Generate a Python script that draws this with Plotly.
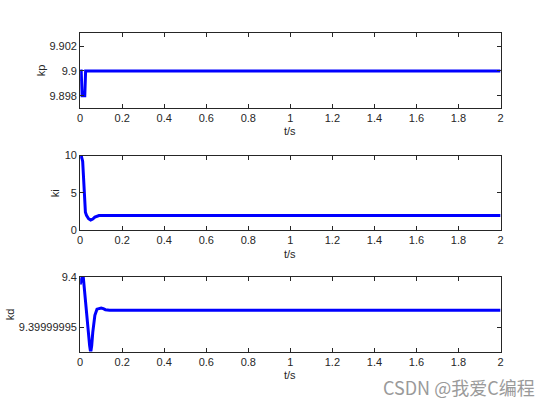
import plotly.graph_objects as go

# ---- data ----
t_kp = [0, 0.005, 0.009, 0.013, 0.022, 0.026, 0.03, 0.1, 0.5, 1.0, 1.5, 2.0]
kp = [9.9, 9.9, 9.898, 9.898, 9.898, 9.9, 9.9, 9.9, 9.9, 9.9, 9.9, 9.9]

t_ki = [0, 0.005, 0.012, 0.02, 0.025, 0.03, 0.04, 0.05, 0.06, 0.07, 0.08, 0.09, 0.1, 0.12, 0.15, 0.2, 0.5, 1.0, 1.5, 2.0]
ki = [9.6, 10.0, 9.2, 4.0, 2.4, 2.0, 1.55, 1.38, 1.5, 1.75, 1.9, 1.97, 1.99, 1.98, 1.96, 1.96, 1.96, 1.96, 1.96, 1.96]

t_kd = [0, 0.005, 0.01, 0.015, 0.02, 0.03, 0.04, 0.045, 0.05, 0.055, 0.06, 0.07, 0.08, 0.09, 0.1, 0.11, 0.12, 0.14, 0.17, 0.2, 0.5, 1.0, 1.5, 2.0]
kd = [9.3999999925, 9.399999997, 9.4000000005, 9.3999999995, 9.399999987, 9.399999965,
      9.399999942, 9.399999932, 9.399999925, 9.399999932, 9.399999945, 9.399999962,
      9.399999968, 9.399999969, 9.3999999692, 9.3999999685, 9.3999999675, 9.399999967,
      9.399999967, 9.399999967, 9.399999967, 9.399999967, 9.399999967, 9.399999967]

x_ticks = [0, 0.2, 0.4, 0.6, 0.8, 1, 1.2, 1.4, 1.6, 1.8, 2]
x_ticktext = ["0", "0.2", "0.4", "0.6", "0.8", "1", "1.2", "1.4", "1.6", "1.8", "2"]
kp_ticks = [9.898, 9.9, 9.902]
kp_ticktext = ["9.898", "9.9", "9.902"]
ki_ticks = [0, 5, 10]
ki_ticktext = ["0", "5", "10"]
kd_ticks = [9.39999995, 9.4]
kd_ticktext = ["9.39999995", "9.4"]
y_labels = ["kp", "ki", "kd"]
x_label = "t/s"
watermark = "CSDN @我爱C编程"

W, H = 554, 411
x_dom = [78 / W, 503 / W]
boxes = [(28, 105), (154, 231), (279, 356)]

fig = go.Figure()
series = [(t_kp, kp), (t_ki, ki), (t_kd, kd)]
for i, (tx, ty) in enumerate(series):
    fig.add_trace(go.Scatter(x=tx, y=ty, mode="lines",
                             line=dict(color="#0000FF", width=3),
                             xaxis="x" if i == 0 else f"x{i+1}",
                             yaxis="y" if i == 0 else f"y{i+1}",
                             showlegend=False, hoverinfo="skip"))

tickfont = dict(family="Arial, Liberation Sans, sans-serif", size=11, color="#262626")
axcommon = dict(showline=True, linecolor="#262626", linewidth=1, mirror="ticks",
                ticks="inside", ticklen=4, tickcolor="#262626", tickwidth=1,
                showgrid=False, zeroline=False, tickfont=tickfont)

yinfo = [([9.89703, 9.90303], kp_ticks, kp_ticktext),
         ([0, 10], ki_ticks, ki_ticktext),
         ([9.39999992600, 9.40000000], kd_ticks, kd_ticktext)]

layout = dict(width=W, height=H, margin=dict(l=0, r=0, t=0, b=0),
              paper_bgcolor="white", plot_bgcolor="white", annotations=[])
for i, (top, bot) in enumerate(boxes):
    sfx = "" if i == 0 else str(i + 1)
    ydom = [1 - bot / H, 1 - top / H]
    layout["xaxis" + sfx] = dict(axcommon, domain=x_dom, range=[0, 2],
                                 tickvals=x_ticks, ticktext=x_ticktext,
                                 anchor="y" + sfx)
    rng, tv, tt = yinfo[i]
    layout["yaxis" + sfx] = dict(axcommon, domain=ydom, range=rng,
                                 tickvals=tv, ticktext=tt, anchor="x" + sfx)
    layout["annotations"].append(dict(text=x_label, xref="paper", yref="paper",
                                      x=(x_dom[0] + x_dom[1]) / 2, y=1 - (bot + 24) / H,
                                      showarrow=False, font=dict(tickfont, size=11),
                                      xanchor="center", yanchor="middle"))

ylab_x = [38, 52, 7]
for i, (top, bot) in enumerate(boxes):
    layout["annotations"].append(dict(text=y_labels[i], xref="paper", yref="paper",
                                      x=ylab_x[i] / W, y=1 - (top + bot) / 2 / H,
                                      textangle=-90, showarrow=False,
                                      font=dict(tickfont, size=11),
                                      xanchor="center", yanchor="middle"))

layout["annotations"].append(dict(text=watermark, xref="paper", yref="paper",
                                  x=540 / W, y=1 - 392 / H, showarrow=False,
                                  xanchor="right", yanchor="middle",
                                  font=dict(family="Noto Sans CJK SC, sans-serif",
                                            size=18, color="#9a9a9a")))
fig.update_layout(**layout)
fig.write_html("out.html", config={"displayModeBar": False},
               post_script="document.body.style.margin='0';document.body.style.overflow='hidden';")
